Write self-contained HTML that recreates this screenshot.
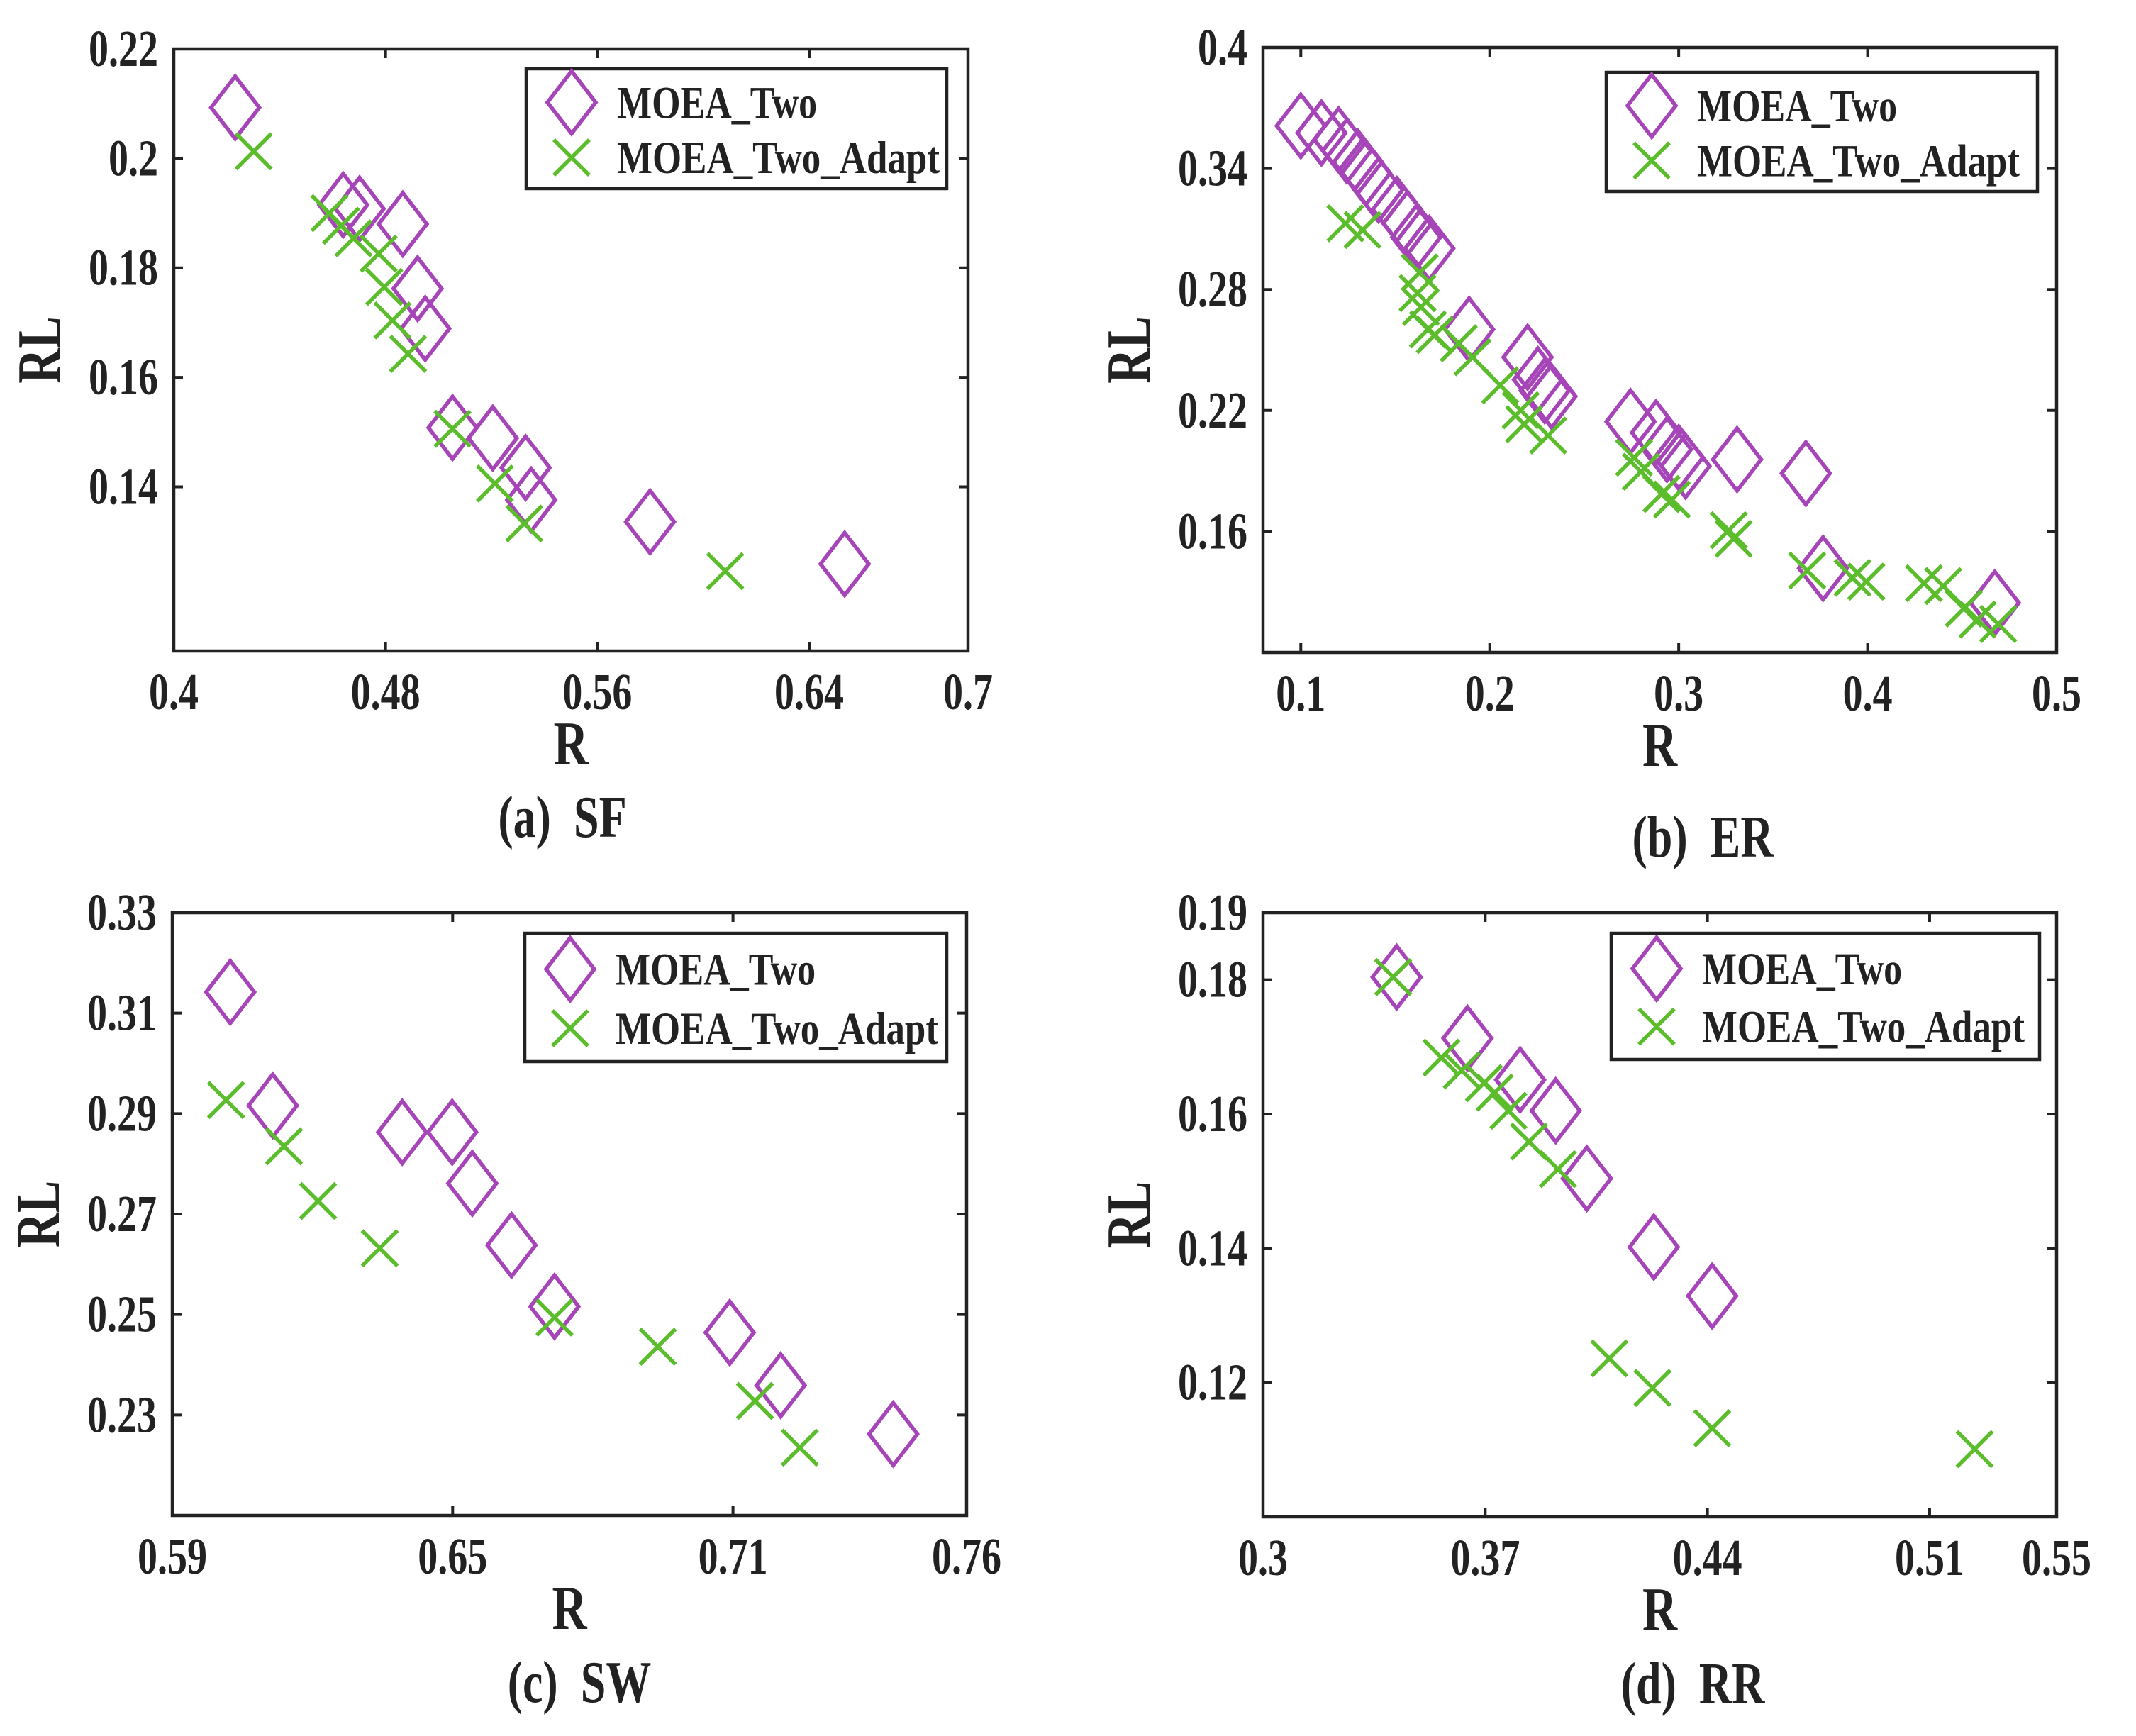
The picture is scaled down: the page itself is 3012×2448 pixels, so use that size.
<!DOCTYPE html>
<html><head><meta charset="utf-8"><style>
html,body{margin:0;padding:0;background:#fff;}
svg{display:block;}
text{font-family:"Liberation Serif",serif;font-weight:bold;fill:#222;}
</style></head><body>
<svg id="fig" width="3012" height="2448" viewBox="0 0 3012 2448" xmlns="http://www.w3.org/2000/svg"></svg>
<script>
// ---- Panel (a) SF ----
const aDiaX=[0.4232,0.464,0.4702,0.4865,0.4921,0.495,0.5053,0.5205,0.5329,0.535,0.5799,0.6534];
const aDiaY=[0.2093,0.1915,0.1908,0.188,0.1762,0.1689,0.1508,0.1489,0.1435,0.1376,0.1336,0.1259];
const aCrsX=[0.4302,0.4588,0.4632,0.4679,0.4774,0.4795,0.4826,0.4885,0.5053,0.5213,0.5324,0.6083];
const aCrsY=[0.2013,0.19,0.1877,0.1854,0.1826,0.1765,0.1704,0.1643,0.1506,0.1406,0.1333,0.1246];
const aXTicks=[0.4,0.48,0.56,0.64,0.7];
const aXLabels=["0.4","0.48","0.56","0.64","0.7"];
const aYTicks=[0.14,0.16,0.18,0.2,0.22];
const aYLabels=["0.14","0.16","0.18","0.2","0.22"];
// ---- Panel (b) ER ----
const bDiaX=[0.1,0.1109,0.12,0.1244,0.1302,0.1345,0.1411,0.1509,0.1564,0.1611,0.168,0.1891,0.22,0.2255,0.2291,0.2327,0.2745,0.288,0.2938,0.3,0.3036,0.3309,0.3673,0.3764,0.4673];
const bDiaY=[0.3612,0.3576,0.3543,0.3488,0.3432,0.3377,0.3294,0.3197,0.3128,0.3059,0.3004,0.2602,0.2464,0.2353,0.2298,0.227,0.2145,0.209,0.2007,0.1966,0.1924,0.1957,0.1888,0.1417,0.1246];
const bCrsX=[0.1236,0.1327,0.1629,0.1618,0.1636,0.1673,0.1709,0.1836,0.1909,0.2055,0.2164,0.2182,0.2309,0.2764,0.28,0.2909,0.2964,0.3265,0.3291,0.368,0.392,0.3993,0.4298,0.44,0.4509,0.4582,0.4691];
const bCrsY=[0.3128,0.3095,0.2884,0.2782,0.2713,0.2602,0.2574,0.2533,0.2464,0.2325,0.2201,0.2132,0.2076,0.1966,0.1896,0.1786,0.1758,0.1606,0.1564,0.1406,0.137,0.1351,0.1343,0.1329,0.1218,0.1163,0.1141];
const bXTicks=[0.1,0.2,0.3,0.4,0.5];
const bXLabels=["0.1","0.2","0.3","0.4","0.5"];
const bYTicks=[0.16,0.22,0.28,0.34,0.4];
const bYLabels=["0.16","0.22","0.28","0.34","0.4"];
// ---- Panel (c) SW ----
const cDiaX=[0.6024,0.6115,0.6392,0.6499,0.6542,0.6626,0.6718,0.7093,0.7202,0.7443];
const cDiaY=[0.3142,0.2916,0.2863,0.2863,0.2761,0.2638,0.2516,0.2464,0.2359,0.2262];
const cCrsX=[0.6015,0.6139,0.6212,0.6344,0.6718,0.6939,0.7147,0.7243];
const cCrsY=[0.2927,0.2835,0.2726,0.2632,0.2494,0.2436,0.2328,0.2235];
const cXTicks=[0.59,0.65,0.71,0.76];
const cXLabels=["0.59","0.65","0.71","0.76"];
const cYTicks=[0.23,0.25,0.27,0.29,0.31,0.33];
const cYLabels=["0.23","0.25","0.27","0.29","0.31","0.33"];
// ---- Panel (d) RR ----
const dDiaX=[0.3421,0.3644,0.381,0.3922,0.402,0.4231,0.4415];
const dDiaY=[0.1804,0.1713,0.1651,0.1605,0.1504,0.1402,0.1329];
const dCrsX=[0.341,0.3562,0.3626,0.3696,0.373,0.3773,0.3838,0.3929,0.4091,0.4227,0.4415,0.5242];
const dCrsY=[0.1804,0.1684,0.1665,0.1646,0.1632,0.1605,0.1559,0.1518,0.1236,0.1192,0.1132,0.1101];
const dXTicks=[0.3,0.37,0.44,0.51,0.55];
const dXLabels=["0.3","0.37","0.44","0.51","0.55"];
const dYTicks=[0.12,0.14,0.16,0.18,0.19];
const dYLabels=["0.12","0.14","0.16","0.18","0.19"];

const NS="http://www.w3.org/2000/svg";
const svg=document.getElementById('fig');
const PURPLE="#a645b8", GREEN="#5cbd2c";
function mk(tag,attrs,parent){const e=document.createElementNS(NS,tag);for(const k in attrs)e.setAttribute(k,attrs[k]);parent.appendChild(e);return e;}
function txt(parent,x,y,str,size,anchor,sy,rot,extra){
  const a={x:0,y:0,'font-size':size,'text-anchor':anchor||'start',transform:`translate(${x},${y})${rot?` rotate(${rot})`:''} scale(1,${sy})`};
  if(extra)for(const k in extra)a[k]=extra[k];
  const t=mk('text',a,parent);t.textContent=str;return t;
}
function diamond(g,x,y){return mk('polygon',{points:`${x},${y-44} ${x+34},${y} ${x},${y+44} ${x-34},${y}`,fill:'none',stroke:PURPLE,'stroke-width':5.5},g);}
function cross(g,x,y){return mk('path',{d:`M${x-25},${y-25}L${x+25},${y+25}M${x-25},${y+25}L${x+25},${y-25}`,stroke:GREEN,'stroke-width':5.5,fill:'none'},g);}

function panel(p){
  const g=mk('g',{},svg);
  
  
  const sx=v=>p.L+(v-p.x0)/(p.x1-p.x0)*(p.R-p.L);
  const sy=v=>p.B-(v-p.y0)/(p.y1-p.y0)*(p.B-p.T);
  p.xt.forEach((v,i)=>{
    const x=sx(v);
    const t=mk('path',{d:`M${x},${p.B}V${p.B-13}M${x},${p.T}V${p.T+13}`,stroke:'#222','stroke-width':4},g);
    
    
    const l=txt(g,x,p.B+82,p.xl[i],56,'middle',1.3);
    
    
  });
  p.yt.forEach((v,i)=>{
    const y=sy(v);
    const t=mk('path',{d:`M${p.L},${y}H${p.L+13}M${p.R},${y}H${p.R-13}`,stroke:'#222','stroke-width':4},g);
    
    
    const l=txt(g,p.L-22,y+24,p.yl[i],56,'end',1.3);
    
    
  });
  const box=mk('rect',{x:p.L,y:p.T,width:p.R-p.L,height:p.B-p.T,fill:'none',stroke:'#222','stroke-width':4.5},g);
  
  
  p.dx.forEach((v,i)=>{const m=diamond(g,sx(v),sy(p.dy[i]));
    
    });
  p.cx.forEach((v,i)=>{const m=cross(g,sx(v),sy(p.cy[i]));
    
    });
  const xt=txt(g,(p.L+p.R)/2,p.B+160,'R',68,'middle',1.3);
  
  
  const yt=txt(g,p.L-160,(p.T+p.B)/2,'RL',68,'middle',1.3,-90);
  
  
  const lg=mk('g',{},g);
  
  
  mk('rect',{x:p.lg[0],y:p.lg[1],width:p.lg[2],height:p.lg[3],fill:'#fff',stroke:'#222','stroke-width':4.5},lg);
  const mx=p.lg[0]+64, tx=p.lg[0]+128, y1=p.lg[1]+p.lg[3]*0.28, y2=p.lg[1]+p.lg[3]*0.74;
  const e1=mk('g',{},lg);
  
  
  diamond(e1,mx,y1);
  txt(e1,tx,y1+22,'MOEA_Two',52,'start',1.25);
  const e2=mk('g',{},lg);
  
  
  cross(e2,mx,y2);
  txt(e2,tx,y2+22,'MOEA_Two_Adapt',52,'start',1.25,0,{textLength:455,lengthAdjust:'spacingAndGlyphs'});
  const cap=txt(g,p.cap[0],p.cap[1],p.capText,64,'middle',1.3,0,{'xml:space':'preserve'});
  
  
}
panel({name:'panel-a-sf',L:245,R:1365,T:69,B:918,x0:0.4,x1:0.7,y0:0.11,y1:0.22,
  xt:aXTicks,xl:aXLabels,yt:aYTicks,yl:aYLabels,dx:aDiaX,dy:aDiaY,cx:aCrsX,cy:aCrsY,
  lg:[742,97,593,169],cap:[793,1180],capText:'(a)\u00a0\u00a0SF'});
panel({name:'panel-b-er',L:1781,R:2900,T:67,B:920,x0:0.08,x1:0.5,y0:0.10,y1:0.40,
  xt:bXTicks,xl:bXLabels,yt:bYTicks,yl:bYLabels,dx:bDiaX,dy:bDiaY,cx:bCrsX,cy:bCrsY,
  lg:[2265,102,608,168],cap:[2401,1208],capText:'(b)\u00a0\u00a0ER'});
panel({name:'panel-c-sw',L:243,R:1363,T:1287,B:2137,x0:0.59,x1:0.76,y0:0.21,y1:0.33,
  xt:cXTicks,xl:cXLabels,yt:cYTicks,yl:cYLabels,dx:cDiaX,dy:cDiaY,cx:cCrsX,cy:cCrsY,
  lg:[740,1316,595,181],cap:[817,2400],capText:'(c)\u00a0\u00a0SW'});
panel({name:'panel-d-rr',L:1781,R:2900,T:1287,B:2139,x0:0.3,x1:0.55,y0:0.10,y1:0.19,
  xt:dXTicks,xl:dXLabels,yt:dYTicks,yl:dYLabels,dx:dDiaX,dy:dDiaY,cx:dCrsX,cy:dCrsY,
  lg:[2272,1316,604,178],cap:[2387,2402],capText:'(d)\u00a0\u00a0RR'});
</script>
</body></html>
